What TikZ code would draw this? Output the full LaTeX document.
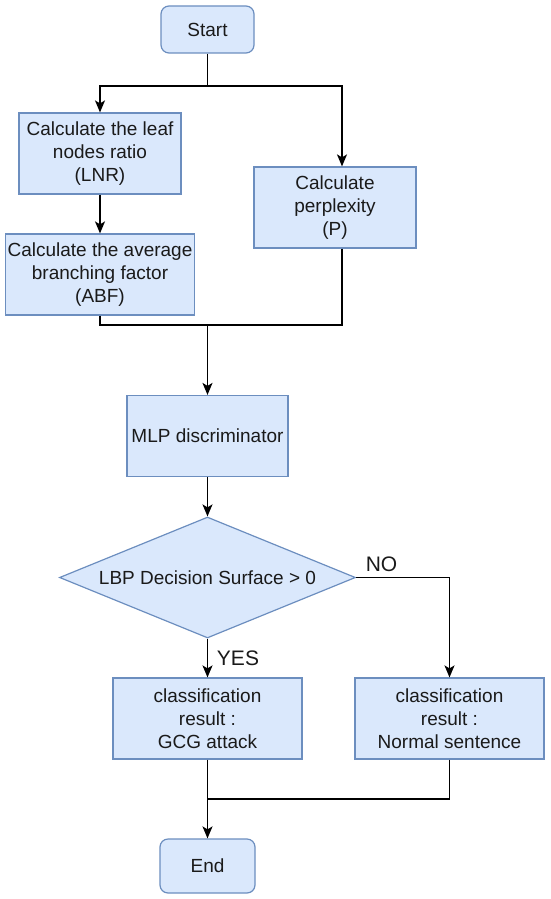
\documentclass[tikz,border=0pt]{standalone}
\usepackage{fontspec}
\setmainfont{Liberation Sans}
\usetikzlibrary{shapes.geometric,arrows.meta}

\definecolor{boxfill}{HTML}{DAE8FC}
\definecolor{boxline}{HTML}{6C8EBF}
\definecolor{inktext}{HTML}{1A1A1A}

\tikzset{
    box/.style={draw=boxline, fill=boxfill, line width=1.2pt, text=inktext,
        align=center, inner sep=0pt, font=\fontsize{19}{23}\selectfont},
    terminal/.style={box, rounded corners=8pt},
    decision/.style={box, shape=diamond, aspect=2.446, minimum width=296pt, minimum height=121pt},
    branchlabel/.style={text=inktext, inner sep=0pt, font=\fontsize{21}{25}\selectfont},
    arr/.style={line width=1.5pt, -{Stealth[length=12pt,width=10pt,inset=3pt]}},
    wire/.style={line width=1.5pt}
}

\begin{document}
\begin{tikzpicture}[x=1pt, y=-1pt]

    % Fix the page size
    \useasboundingbox (0,0) rectangle (550,899);

    % Start and end
    \node[terminal, minimum width=93pt, minimum height=47pt] (start) at (207.5,29.5) {Start};
    \node[terminal, minimum width=95pt, minimum height=54pt] (end) at (207.5,866) {End};

    % Feature steps
    \node[box, minimum width=162pt, minimum height=81pt] (lnr) at (100,153.5)
        {Calculate the leaf\\nodes ratio\\(LNR)};
    \node[box, minimum width=189pt, minimum height=81pt] (abf) at (100,274.5)
        {Calculate the average\\branching factor\\(ABF)};
    \node[box, minimum width=162pt, minimum height=81pt] (ppl) at (335,207.5)
        {Calculate\\perplexity\\(P)};

    % Discriminator and decision
    \node[box, minimum width=161pt, minimum height=81pt] (mlp) at (207.5,436) {MLP discriminator};
    \node[decision] (dec) at (207.5,577.5) {LBP Decision Surface > 0};

    % Results
    \node[box, minimum width=189pt, minimum height=81pt] (gcg) at (207.5,718.5)
        {classification\\result :\\GCG attack};
    \node[box, minimum width=189pt, minimum height=81pt] (nrm) at (449.5,718.5)
        {classification\\result :\\Normal sentence};

    % Junction points
    \coordinate (split) at (207.5,86);
    \coordinate (join) at (207.5,325);
    \coordinate (turn) at (449.5,577.5);
    \coordinate (close) at (207.5,799);

    % Connectors from start
    \draw[wire] (start.south) -- (split);
    \draw[arr] (split) -| (lnr.north);
    \draw[arr] (split) -| ([xshift=7pt]ppl.north);
    \draw[arr] (lnr) -- (abf);

    % Merge into the discriminator
    \draw[wire] (abf.south) |- (join);
    \draw[wire] ([xshift=7pt]ppl.south) |- (join);
    \draw[arr] (join) -- (mlp.north);
    \draw[arr] (mlp) -- (dec);

    % Decision branches
    \draw[arr] (dec.south) -- (gcg.north);
    \draw[arr] (dec.east) -- (turn) -- (nrm.north);
    \node[branchlabel] (yes) at (238,658) {YES};
    \node[branchlabel] (no) at (381.5,564) {NO};

    % Merge into the end
    \draw[wire] (nrm.south) |- (close);
    \draw[arr] (gcg.south) -- (end.north);

\end{tikzpicture}
\end{document}
